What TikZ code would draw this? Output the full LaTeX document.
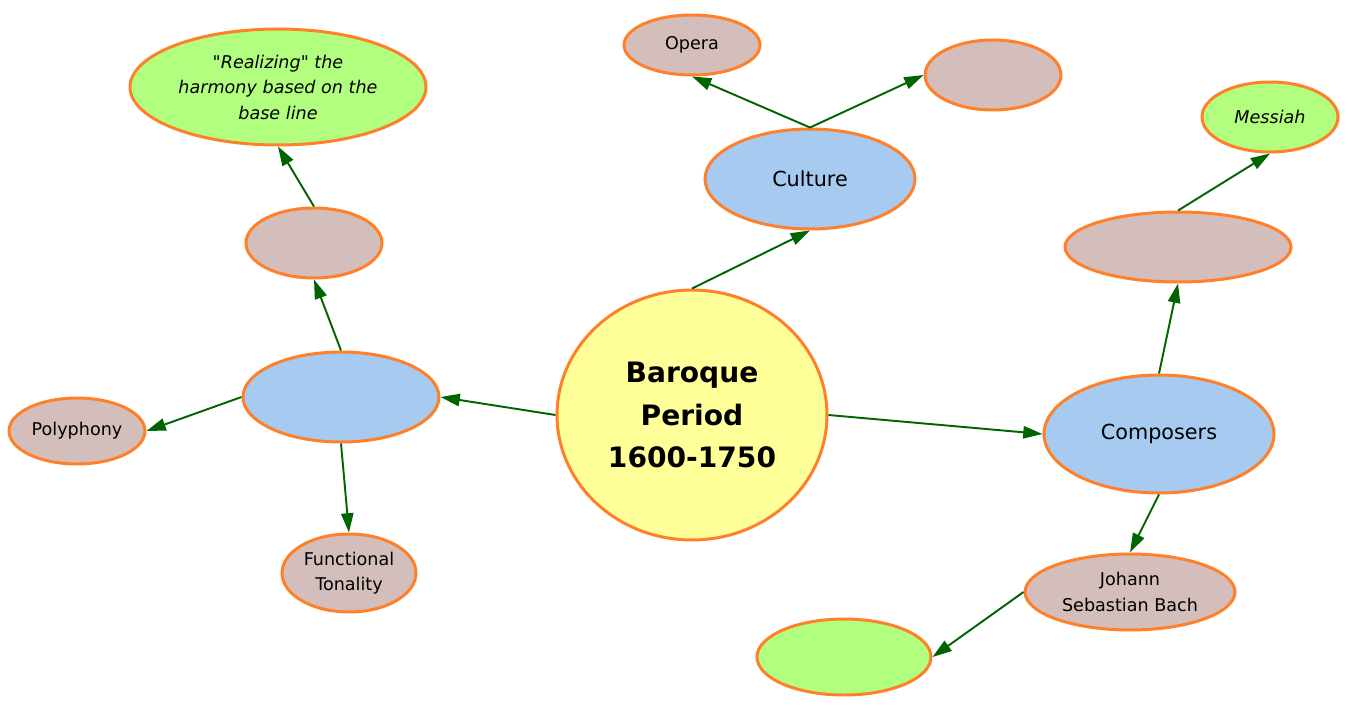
\documentclass[tikz,border=0pt]{standalone}
\usepackage{fontspec}
\setmainfont{DejaVu Sans}
\usetikzlibrary{shapes.geometric,arrows.meta}

\definecolor{rim}{RGB}{255,128,40}
\definecolor{hub}{RGB}{255,255,153}
\definecolor{branch}{RGB}{166,202,240}
\definecolor{leaf}{RGB}{212,190,188}
\definecolor{fresh}{RGB}{178,255,128}
\definecolor{link}{RGB}{0,100,0}

\begin{document}
\begin{tikzpicture}[x=0.02cm,y=-0.02cm,
  bubble/.style={ellipse, draw=rim, line width=1.7pt, inner sep=0pt, align=center,
    font=\fontsize{10}{14.5}\selectfont},
  hubnode/.style={bubble, fill=hub, font=\fontsize{16}{24}\selectfont\bfseries},
  branchnode/.style={bubble, fill=branch, font=\fontsize{11.8}{15}\selectfont},
  leafnode/.style={bubble, fill=leaf},
  freshnode/.style={bubble, fill=fresh, font=\fontsize{10}{14.5}\selectfont\itshape},
  link/.style={draw=link, line width=1.1pt, -{Triangle[length=11pt,width=7pt]}}]
\useasboundingbox (0,0) rectangle (1348,707);

\node[hubnode, minimum width=5.4cm, minimum height=5cm] (baroque) at (692,415) {Baroque\\Period\\1600-1750};

\node[branchnode, minimum width=4.2cm, minimum height=2cm] (culture) at (810,179) {Culture};
\node[leafnode, minimum width=2.72cm, minimum height=1.2cm] (opera) at (692,45) {Opera};
\node[leafnode, minimum width=2.72cm, minimum height=1.4cm] (art) at (993,75) {};

\node[branchnode, minimum width=3.92cm, minimum height=1.8cm] (theory) at (341,397) {};
\node[leafnode, minimum width=2.72cm, minimum height=1.4cm] (bass) at (314,243) {};
\node[freshnode, minimum width=5.92cm, minimum height=2.32cm] (realize) at (278,87) {\textquotedbl Realizing\textquotedbl{} the\\harmony based on the\\base line};
\node[leafnode, minimum width=2.72cm, minimum height=1.32cm] (poly) at (77,431) {Polyphony};
\node[leafnode, minimum width=2.68cm, minimum height=1.56cm] (tonal) at (349,573) {Functional\\Tonality};

\node[branchnode, minimum width=4.6cm, minimum height=2.36cm] (comp) at (1159,434) {Composers};
\node[leafnode, minimum width=4.52cm, minimum height=1.4cm] (handel) at (1178,247) {};
\node[freshnode, minimum width=2.72cm, minimum height=1.4cm] (messiah) at (1270,117) {Messiah};
\node[leafnode, minimum width=4.2cm, minimum height=1.52cm] (bach) at (1130,592) {Johann\\Sebastian Bach};
\node[freshnode, minimum width=3.48cm, minimum height=1.52cm] (work) at (844,657) {};

\draw[link] (baroque.north) -- (culture.south);
\draw[link] (culture.north) -- (opera.south);
\draw[link] (culture.north) -- (art.west);

\draw[link] (baroque.west) -- (theory.east);
\draw[link] (theory.north) -- (bass.south);
\draw[link] (bass.north) -- (realize.south);
\draw[link] (theory.west) -- (poly.east);
\draw[link] (theory.south) -- (tonal.north);

\draw[link] (baroque.east) -- (comp.west);
\draw[link] (comp.north) -- (handel.south);
\draw[link] (handel.north) -- (messiah.south);
\draw[link] (comp.south) -- (bach.north);
\draw[link] (bach.west) -- (work.east);
\end{tikzpicture}
\end{document}
